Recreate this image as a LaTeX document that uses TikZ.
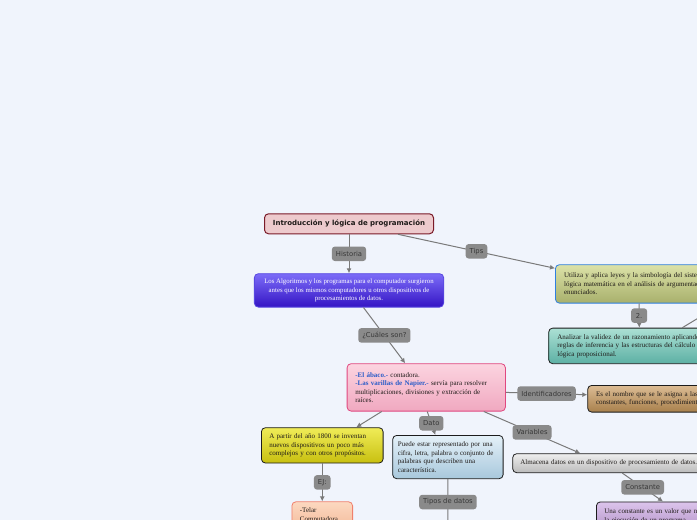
\documentclass[tikz,border=0pt]{standalone}
\usepackage{fontspec}
\setmainfont{Liberation Serif}
\newfontfamily\tagfont{DejaVu Sans}
\usepackage{tikz}
\usetikzlibrary{shadings}
\usetikzlibrary{positioning}
\usetikzlibrary{calc,arrows.meta}
\definecolor{mm-bg}{HTML}{F0F4FC}
\definecolor{mm-text}{HTML}{1E1A18}
\definecolor{mm-line}{HTML}{7A7A7A}
\definecolor{mm-tag}{HTML}{8A8A8A}
\definecolor{mm-tagtext}{HTML}{383838}
\definecolor{mm-dark}{HTML}{1C1C1C}
\definecolor{mm-title}{HTML}{EDCACD}
\definecolor{mm-titleline}{HTML}{7A1A28}
\definecolor{mm-purple-top}{HTML}{7C6CF8}
\definecolor{mm-purple-bot}{HTML}{3414C4}
\definecolor{mm-purple-line}{HTML}{5848E0}
\definecolor{mm-pink-top}{HTML}{FCD4E0}
\definecolor{mm-pink-bot}{HTML}{F0A8C0}
\definecolor{mm-pink-line}{HTML}{E04880}
\definecolor{mm-blue}{HTML}{2A5CC8}
\definecolor{mm-brown-top}{HTML}{DCBC94}
\definecolor{mm-brown-bot}{HTML}{A8804C}
\definecolor{mm-yellow-top}{HTML}{F0EC58}
\definecolor{mm-yellow-bot}{HTML}{C8C010}
\definecolor{mm-sky-top}{HTML}{E4F0F8}
\definecolor{mm-sky-bot}{HTML}{A8C8DC}
\definecolor{mm-gray-top}{HTML}{EEEEEE}
\definecolor{mm-gray-bot}{HTML}{BBBBBB}
\definecolor{mm-green-top}{HTML}{DCE2A8}
\definecolor{mm-green-bot}{HTML}{A8B06C}
\definecolor{mm-green-line}{HTML}{2F7FE0}
\definecolor{mm-teal-top}{HTML}{ACE0D4}
\definecolor{mm-teal-bot}{HTML}{5CB0A4}
\definecolor{mm-peach-top}{HTML}{FCD8C0}
\definecolor{mm-peach-bot}{HTML}{F4BC9C}
\definecolor{mm-peach-line}{HTML}{F0806C}
\definecolor{mm-lilac-top}{HTML}{DCC4EC}
\definecolor{mm-lilac-bot}{HTML}{B494C8}

\begin{document}
\begin{tikzpicture}[
    x=1pt, y=-1pt,
    font=\fontsize{7}{8.5}\selectfont,
    >={Latex[length=5pt,width=5pt]}
  ]

  \tikzset{
    mmnode/.style={draw=mm-dark, rounded corners=4pt, line width=0.8pt, inner xsep=8pt, inner ysep=0pt, align=left, text=mm-text, anchor=north west},
    tagbox/.style={fill=mm-tag, rounded corners=3pt, inner xsep=4pt, inner ysep=0pt, minimum width=16pt, minimum height=14.5pt, text=mm-tagtext, font=\tagfont\fontsize{6.8}{8}\selectfont},
    conn/.style={->, draw=mm-line, line width=1pt}
  }

  \useasboundingbox[fill=mm-bg] (0,0) rectangle (697,520);
  \clip (0,0) rectangle (697,520);

  % Central topic and the history branch
  \node (intro) [mmnode, fill=mm-title, draw=mm-titleline, line width=1pt, minimum width=169pt, minimum height=20pt, align=center, text=mm-text, font=\tagfont\bfseries\fontsize{7}{8}\selectfont] at (264,213.3) {Introducción y lógica de programación};
  \node (orig)  [mmnode, top color=mm-purple-top, bottom color=mm-purple-bot, draw=mm-purple-line, text=white, align=center, inner xsep=4pt, minimum width=189.3pt, minimum height=33.4pt, font=\fontsize{6.8}{8.4}\selectfont, anchor=north, below=39pt of intro] {Los Algoritmos y los programas para el computador surgieron\\antes que los mismos computadores u otros dispositivos de\\procesamientos de datos.};
  \node (herr)  [mmnode, top color=mm-pink-top, bottom color=mm-pink-bot, draw=mm-pink-line, text width=142pt, inner xsep=8.15pt, minimum height=47.4pt] at (346.7,363.3) {\textcolor{mm-blue}{\textbf{-El ábaco.-}} contadora.\\\textcolor{mm-blue}{\textbf{-Las varillas de Napier.-}} servía para resolver\\multiplicaciones, divisiones y extracción de\\raíces.};
  \node (nombre) [mmnode, top color=mm-brown-top, bottom color=mm-brown-bot, text width=200pt, inner xsep=8.3pt, minimum height=26.7pt] at (587.3,385) {Es el nombre que se le asigna a las variables,\\constantes, funciones, procedimientos, etc.};
  \node (disp)  [mmnode, top color=mm-yellow-top, bottom color=mm-yellow-bot, text width=106pt, inner xsep=7.85pt, minimum height=35.3pt] at (261,427.3) {A partir del año 1800 se inventan\\nuevos dispositivos un poco más\\complejos y con otros propósitos.};
  \node (ejem)  [mmnode, top color=mm-peach-top, bottom color=mm-peach-bot, draw=mm-peach-line, text width=44.7pt, inner xsep=8pt, inner ysep=6pt, anchor=north, below=38pt of disp] {-Telar\\Computadora};
  \node (dato)  [mmnode, top color=mm-sky-top, bottom color=mm-sky-bot, text width=100pt, inner xsep=5.2pt, minimum height=43.3pt] at (392.3,435) {Puede estar representado por una\\cifra, letra, palabra o conjunto de\\palabras que describen una\\característica.};
  \node (var)   [mmnode, top color=mm-gray-top, bottom color=mm-gray-bot, text width=200pt, inner xsep=7.7pt, minimum height=19pt] at (512.3,453.3) {Almacena datos en un dispositivo de procesamiento de datos.};
  \node (cons)  [mmnode, top color=mm-lilac-top, bottom color=mm-lilac-bot, text width=200pt, inner ysep=7pt] at (596,501.5) {Una constante es un valor que no cambia durante\\la ejecución de un programa.};

  % Tips branch
  \node (tip1)  [mmnode, top color=mm-green-top, bottom color=mm-green-bot, draw=mm-green-line, text width=200pt, inner xsep=8.7pt, minimum height=38.4pt] at (555,264.3) {Utiliza y aplica leyes y la simbología del sistema de la\\lógica matemática en el análisis de argumentación de\\enunciados.};
  \node (tip2)  [mmnode, top color=mm-teal-top, bottom color=mm-teal-bot, text width=200pt, inner xsep=8.7pt, minimum height=35.6pt] at (548.3,327.7) {Analizar la validez de un razonamiento aplicando\\reglas de inferencia y las estructuras del cálculo de la\\lógica proposicional.};

  \coordinate (tiposfin) at (448,525);
  \coordinate (tip2fuera) at (720,305);

  % Connections with their labels
  \draw[conn] (intro) -- node[tagbox] (lhist) {Historia} (orig);
  \draw[conn] ([xshift=49pt]intro.south) -- node[tagbox] (ltips) {Tips} ([yshift=-4pt]tip1.north west);
  \draw[conn] ([xshift=14.5pt]orig.south) -- node[tagbox] (lcual) {¿Cuáles son?} ([xshift=-21pt]herr.north);
  \draw[conn] ([yshift=-5pt]herr.east) -- node[tagbox] (lident) {Identificadores} ([yshift=4pt]nombre.west);
  \draw[conn] ([xshift=1pt]herr.south) -- node[tagbox] (ldato) {Dato} ([xshift=-12.5pt]dato.north);
  \draw[conn] ([xshift=35pt]herr.south west) -- ([xshift=34pt]disp.north);
  \draw[conn] ([xshift=-22pt]herr.south east) -- node[tagbox] (lvar) {Variables} ([xshift=68pt]var.north west);
  \draw[conn] (disp) -- node[tagbox] (lej) {EJ:} (ejem);
  \draw[conn] (dato) -- node[tagbox] (ltipos) {Tipos de datos} (tiposfin);
  \draw[conn] ([xshift=110pt]var.south west) -- node[tagbox] (lcons) {Constante} ([xshift=67pt]cons.north west);
  \draw[conn] ([xshift=84pt]tip1.south west) -- node[tagbox] (ldos) {2.} ([xshift=91pt]tip2.north west);
  \draw[conn] ([xshift=134pt]tip2.north west) -- (tip2fuera);

\end{tikzpicture}
\end{document}
